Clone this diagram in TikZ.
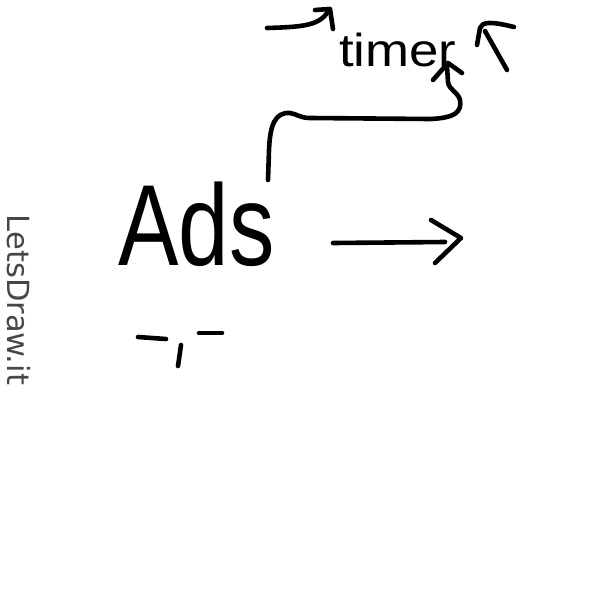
\documentclass[tikz,border=0pt]{standalone}
\usepackage{fontspec}
\newfontfamily\handfont{Liberation Sans}
\newfontfamily\wmfont{DejaVu Sans}
\definecolor{wmgray}{HTML}{474747}
\tikzset{
  stroke/.style={line width=4.6pt, line cap=round, line join=round, black},
  handtext/.style={inner sep=0pt, anchor=base west, text=black},
}
\begin{document}
\begin{tikzpicture}[x=1pt,y=-1pt]
\useasboundingbox (0,0) rectangle (600,600);
\fill[white] (0,0) rectangle (600,600);
% watermark
\node[rotate=-90, inner sep=0pt, text=wmgray, font=\wmfont\fontsize{30.5}{30.5}\selectfont] (wm) at (19,300) {LetsDraw.it};
% main words
\node[handtext, font=\handfont\fontsize{112}{112}\selectfont] (ads) at (118,265) {\scalebox{0.81}[1.03]{Ads}};
\node[handtext, font=\handfont\fontsize{44}{44}\selectfont] (timer) at (339,66) {\scalebox{1.2}[1.05]{timer}};
% top-left arrow
\draw[stroke] (267,28) .. controls (300,27) and (318,26) .. (327,13);
\draw[stroke] (315,10) -- (330,9) -- (333,29);
% top-right arrow
\draw[stroke] (507,70) -- (485,31);
\draw[stroke] (477,45) -- (480,28) .. controls (482,22) and (490,21) .. (514,27);
% curved connector from Ads to timer
\draw[stroke] (268,180) -- (269,150) .. controls (270,125) and (275,112) .. (290,113)
  .. controls (297,114) and (300,118) .. (310,118) -- (430,119)
  .. controls (455,118) and (462,112) .. (460,100)
  .. controls (458,92) and (449,90) .. (448,82) -- (447,66);
\draw[stroke] (433,80) -- (448,63) -- (462,73);
% right arrow
\draw[stroke] (333,243) -- (445,242);
\draw[stroke] (431,220) -- (461,238) -- (435,263);
% small marks below
\draw[stroke] (138,337) -- (166,339);
\draw[stroke] (181,345) -- (178,366);
\draw[stroke] (199,333) -- (222,333);
\end{tikzpicture}
\end{document}
